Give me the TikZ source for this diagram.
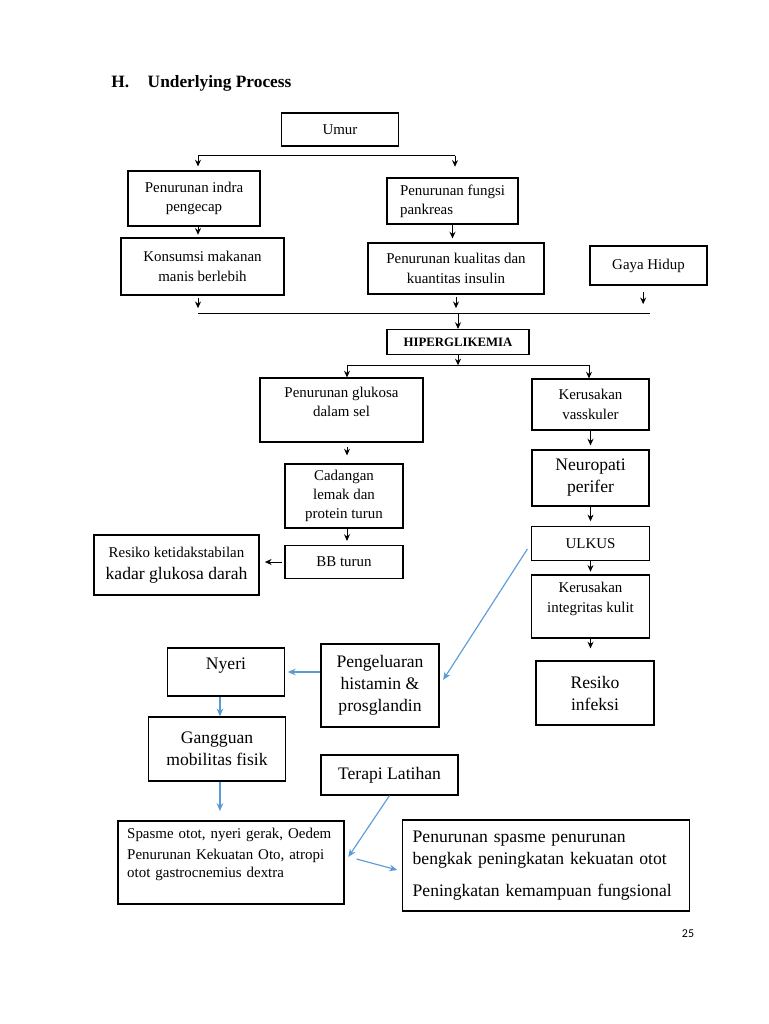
\documentclass[tikz,border=0pt]{standalone}
\usepackage{fontspec}
\setmainfont{Liberation Serif}
\newfontfamily\pagefont{Carlito}
\usetikzlibrary{arrows.meta,calc}
\definecolor{arrowblue}{RGB}{91,155,213}
\newcommand{\txtS}{\fontsize{11.2}{14.5}\selectfont}
\newcommand{\txtL}{\fontsize{13.2}{16.5}\selectfont}
\setlength{\parindent}{0pt}

\begin{document}
\begin{tikzpicture}[
    x=0.75pt, y=-0.75pt,
    box/.style 2 args={draw, line width=0.85pt, minimum width=#1*0.75pt, minimum height=#2*0.75pt, inner sep=0pt, align=center, font=\txtS},
    big/.style={font=\txtL},
    txt/.style={inner sep=0pt, align=center, font=\txtS},
    arr/.style={-{Stealth[length=5pt,width=4.5pt]}, line width=0.75pt},
    barline/.style={line width=0.75pt},
    bluearr/.style={-{Stealth[length=6pt,width=5pt]}, draw=arrowblue, line width=0.85pt},
]
\useasboundingbox (0,0) rectangle (768,1024);

% Title
\node[anchor=west, inner sep=0pt, font=\fontsize{13}{15}\selectfont\bfseries] (title) at (111,83) {H.\hspace{14pt}Underlying Process};

% Upper part
\node[box={117}{33}] (umur) at (340,129.5) {Umur};
\node[box={132}{55}] (indra) at (194,198.5) {Penurunan indra\\pengecap};
\node[box={131}{46}, align=left] (fungsi) at (452.5,201) {Penurunan fungsi\\pankreas};
\node[box={163}{57}] (konsumsi) at (202.5,266.5) {Konsumsi makanan\\manis berlebih};
\node[box={176}{51}] (kualitas) at (456,268.5) {Penurunan kualitas dan\\kuantitas insulin};
\node[box={117}{39}] (gaya) at (648.5,265.5) {Gaya Hidup};
\node[box={142}{25}, font=\fontsize{9.6}{11}\selectfont\bfseries] (hiper) at (458,342) {HIPERGLIKEMIA};

% Left column
\node[box={163}{64}] (glukosa) at (341.5,410) {};
\node[txt] (glukosa-t) at (341.5,402) {Penurunan glukosa\\dalam sel};
\node[box={118}{64}] (cadangan) at (344,496) {Cadangan\\lemak dan\\protein turun};
\node[box={118}{33}] (bb) at (344,562) {BB turun};
\node[box={165}{60}] (resikoglu) at (176.5,565) {Resiko ketidakstabilan\\[2pt]{\txtL kadar glukosa darah}};

% Right column
\node[box={117}{51}] (vaskuler) at (590.5,404.5) {Kerusakan\\vasskuler};
\node[box={117}{56}, big] (neuropati) at (590.5,478) {Neuropati\\perifer};
\node[box={118}{34}] (ulkus) at (590.5,543.5) {ULKUS};
\node[box={118}{63}] (kulit) at (590.5,606.5) {};
\node[txt] (kulit-t) at (590.5,599) {Kerusakan\\integritas kulit};
\node[box={118}{64}, big] (infeksi) at (595,693) {Resiko\\infeksi};

% Lower part
\node[box={118}{83}, big] (histamin) at (380,685.5) {Pengeluaran\\histamin \&\\prosglandin};
\node[box={117}{48}] (nyeri) at (226,672) {};
\node[txt, big] (nyeri-t) at (226,666) {Nyeri};
\node[box={137}{64}, big] (gangguan) at (217,749) {Gangguan\\mobilitas fisik};
\node[box={137}{40}, big] (terapi) at (389.5,775) {Terapi Latihan};
\node[box={226}{83}] (spasme) at (231,862.5) {};
\node[anchor=north west, inner sep=0pt, text width=155pt, font=\fontsize{11.2}{13.7}\selectfont] (spasme-t) at ([shift={(9.5,7)}]spasme.north west) {Spasme otot, nyeri gerak, Oedem\\[2pt]Penurunan Kekuatan Oto, atropi\linebreak otot gastrocnemius dextra};
\node[box={287}{91}, big, align=left, text width=200pt] (penspasme) at (546,865.5) {Penurunan spasme penurunan\\bengkak peningkatan kekuatan otot\\[7pt]Peningkatan kemampuan fungsional};

% Page number
\node[inner sep=0pt, font=\pagefont\fontsize{9}{10}\selectfont] (pagenum) at (688,934) {25};

% Branches below Umur
\coordinate (umurbar-l) at (198,155.7);
\coordinate (umurbar-r) at (455,155.7);
\draw[barline] (umurbar-l) -- (umurbar-r);
\draw[arr, shorten >=3pt] (umurbar-l) -- (umurbar-l |- indra.north);
\draw[arr, shorten >=8pt] (umurbar-r) -- (umurbar-r |- fungsi.north);
\draw[arr, shorten >=2pt] ([xshift=3pt]indra.south) -- ([xshift=3pt]indra.south |- konsumsi.north);
\draw[arr, shorten >=3pt] (fungsi.south) -- (fungsi.south |- kualitas.north);

% Joining line above HIPERGLIKEMIA
\coordinate (midbar-l) at (198,313.5);
\coordinate (midbar-r) at (650,313.5);
\draw[barline] (midbar-l) -- (midbar-r);
\draw[arr, shorten <=2pt, shorten >=4pt] (konsumsi.south -| midbar-l) -- (midbar-l);
\draw[arr, shorten <=2pt, shorten >=4pt] (kualitas.south) -- (kualitas.south |- midbar-l);
\draw[arr, shorten <=5pt, shorten >=7pt] ([xshift=-4pt]gaya.south) -- ([xshift=-4pt]gaya.south |- midbar-l);
\draw[arr] (hiper.north |- midbar-l) -- (hiper.north);

% Branches below HIPERGLIKEMIA
\coordinate (hiperbar-l) at (347,365.3);
\coordinate (hiperbar-r) at (589,365.3);
\draw[barline] (hiperbar-l) -- (hiperbar-r);
\draw[arr] (hiper.south) -- (hiper.south |- hiperbar-l);
\draw[arr] (hiperbar-l) -- (hiperbar-l |- glukosa.north);
\draw[arr] (hiperbar-r) -- (hiperbar-r |- vaskuler.north);

% Left column arrows
\draw[arr, shorten <=3.5pt, shorten >=6pt] (glukosa.south -| hiperbar-l) -- (hiperbar-l |- cadangan.north);
\draw[arr, shorten >=3pt] (cadangan.south -| hiperbar-l) -- (hiperbar-l |- bb.north);
\draw[arr, shorten <=2pt, shorten >=4pt] (bb.west) -- (bb.west -| resikoglu.east);

% Right column arrows
\draw[arr, shorten >=3pt] (vaskuler) -- (neuropati);
\draw[arr, shorten >=3.5pt] (neuropati) -- (ulkus);
\draw[arr, shorten >=2pt] (ulkus) -- (kulit);
\draw[arr, shorten >=9pt] (kulit.south) -- (kulit.south |- infeksi.north);

% Blue arrows
\draw[bluearr, shorten <=5pt, shorten >=5pt] (ulkus.west) -- (histamin.east);
\draw[bluearr, shorten >=2pt] (histamin.west |- nyeri.east) -- (nyeri.east);
\draw[bluearr] ([xshift=2.2pt]gangguan.north |- nyeri.south) -- ([xshift=2.2pt]gangguan.north);
\draw[bluearr, shorten >=7pt] ([xshift=2.2pt]gangguan.south) -- ([xshift=2.2pt]gangguan.south |- spasme.north);
\draw[bluearr, shorten >=5pt] (terapi.south) -- (spasme.east);
\draw[bluearr] ([shift={(12,-3.5)}]spasme.east) -- ([shift={(-4.6,4.5)}]penspasme.west);

\end{tikzpicture}
\end{document}
